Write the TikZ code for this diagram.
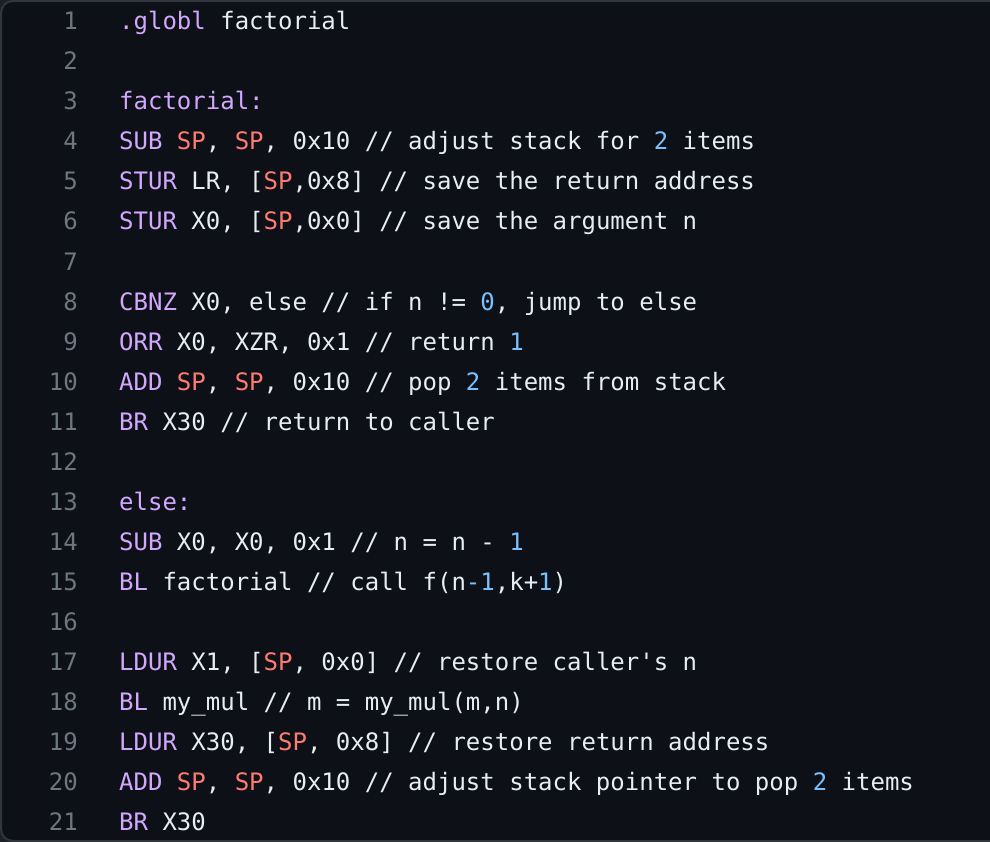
\documentclass[tikz,border=0pt]{standalone}
\usepackage{fontspec}
\setmonofont{DejaVu Sans Mono}
\definecolor{bgout}{HTML}{1C2128}
\definecolor{bg}{HTML}{0D1117}
\definecolor{bd}{HTML}{30363D}
\definecolor{fg}{HTML}{E6EDF3}
\definecolor{kw}{HTML}{D2A8FF}
\definecolor{rg}{HTML}{FF7B72}
\definecolor{nm}{HTML}{79C0FF}
\definecolor{ln}{HTML}{6E7681}
\newcommand{\K}[1]{\textcolor{kw}{#1}}
\newcommand{\R}[1]{\textcolor{rg}{#1}}
\newcommand{\N}[1]{\textcolor{nm}{#1}}
\begin{document}
\begin{tikzpicture}[x=1pt,y=-1pt,
  codeline/.style={anchor=base west,inner sep=0pt,text=fg,font=\ttfamily\fontsize{24}{28}\selectfont},
  lnum/.style={anchor=base east,inner sep=0pt,text=ln,font=\ttfamily\fontsize{24}{28}\selectfont}]
\useasboundingbox (0,0) rectangle (990,842);
\fill[bgout] (0,0) rectangle (990,842);
\draw[bd,fill=bg,line width=2pt,rounded corners=12pt] (1,1) rectangle (1010,841);
\foreach \i in {1,...,21}{\node[lnum] (n\i) at (78,{30+40*(\i-1)}) {\i};}
\newcommand{\cl}[2]{\node[codeline] (c#1) at (119,{30+40*(#1-1)}) {#2};}
\cl{1}{\K{.globl} factorial}
\cl{3}{\K{factorial:}}
\cl{4}{\K{SUB} \R{SP}, \R{SP}, 0x10 // adjust stack for \N{2} items}
\cl{5}{\K{STUR} LR, [\R{SP},0x8] // save the return address}
\cl{6}{\K{STUR} X0, [\R{SP},0x0] // save the argument n}
\cl{8}{\K{CBNZ} X0, else // if n != \N{0}, jump to else}
\cl{9}{\K{ORR} X0, XZR, 0x1 // return \N{1}}
\cl{10}{\K{ADD} \R{SP}, \R{SP}, 0x10 // pop \N{2} items from stack}
\cl{11}{\K{BR} X30 // return to caller}
\cl{13}{\K{else:}}
\cl{14}{\K{SUB} X0, X0, 0x1 // n = n - \N{1}}
\cl{15}{\K{BL} factorial // call f(n\N{-1},k+\N{1})}
\cl{17}{\K{LDUR} X1, [\R{SP}, 0x0] // restore caller's n}
\cl{18}{\K{BL} my\_mul // m = my\_mul(m,n)}
\cl{19}{\K{LDUR} X30, [\R{SP}, 0x8] // restore return address}
\cl{20}{\K{ADD} \R{SP}, \R{SP}, 0x10 // adjust stack pointer to pop \N{2} items}
\cl{21}{\K{BR} X30}
\end{tikzpicture}
\end{document}
